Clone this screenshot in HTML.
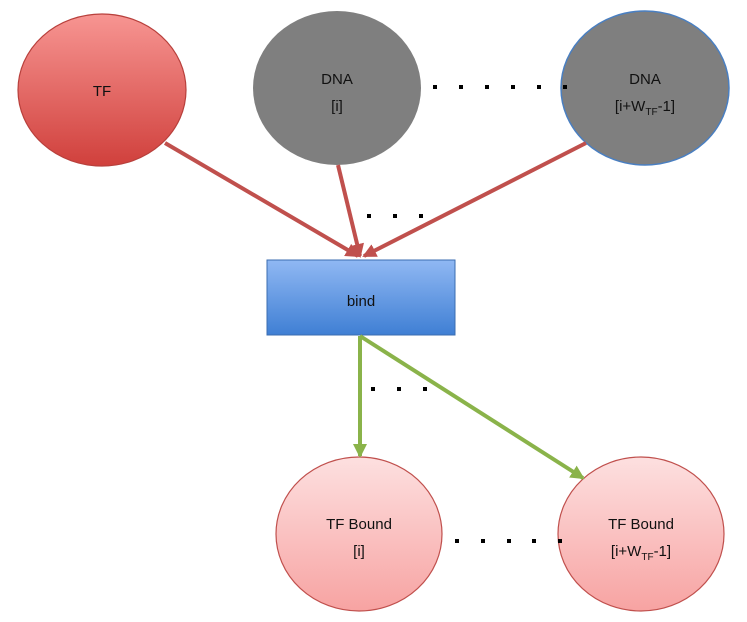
<!DOCTYPE html>
<html><head><style>body{margin:0;background:#fff}svg{display:block}text{font-family:"Liberation Sans",sans-serif;font-size:15px;fill:#111;text-anchor:middle}</style></head><body>
<svg width="747" height="622" viewBox="0 0 747 622">
<defs>
<linearGradient id="r" x1="0" y1="0" x2="0" y2="1"><stop offset="0" stop-color="#f79592"/><stop offset="1" stop-color="#d0403c"/></linearGradient>
<linearGradient id="p" x1="0" y1="0" x2="0" y2="1"><stop offset="0" stop-color="#fde0e0"/><stop offset="1" stop-color="#f7a3a2"/></linearGradient>
<linearGradient id="b" x1="0" y1="0" x2="0" y2="1"><stop offset="0" stop-color="#90b8f3"/><stop offset="1" stop-color="#3f7fd4"/></linearGradient>
<marker id="ar" markerWidth="14" markerHeight="14" refX="12" refY="7" orient="auto" markerUnits="userSpaceOnUse" viewBox="0 0 14 14"><path d="M0,0L14,7L0,14z" fill="#c0504d"/></marker>
<marker id="ag" markerWidth="14" markerHeight="14" refX="12" refY="7" orient="auto" markerUnits="userSpaceOnUse" viewBox="0 0 14 14"><path d="M0,0L14,7L0,14z" fill="#8ab34a"/></marker>
</defs>
<ellipse cx="102" cy="90" rx="84" ry="76" fill="url(#r)" stroke="#b8403c" stroke-width="1.2"/>
<ellipse cx="337" cy="88" rx="84" ry="77" fill="#7f7f7f"/>
<ellipse cx="645" cy="88" rx="84" ry="77" fill="#7f7f7f" stroke="#4a7fc1" stroke-width="1.5"/>
<text x="102" y="96">TF</text>
<text x="337" y="84">DNA</text><text x="337" y="111">[i]</text>
<text x="645" y="84">DNA</text><text x="645" y="111">[i+W<tspan font-size="10" dy="4">TF</tspan><tspan dy="-4">-1]</tspan></text>
<g stroke="#c0504d" stroke-width="4" fill="none">
<line x1="165" y1="143" x2="358" y2="256" marker-end="url(#ar)"/>
<line x1="338" y1="165" x2="360" y2="256" marker-end="url(#ar)"/>
<line x1="586" y1="143" x2="364" y2="256" marker-end="url(#ar)"/>
</g>
<rect x="267" y="260" width="188" height="75" fill="url(#b)" stroke="#3b6db0" stroke-width="1"/>
<text x="361" y="306">bind</text>
<ellipse cx="359" cy="534" rx="83" ry="77" fill="url(#p)" stroke="#c0504d" stroke-width="1.2"/>
<ellipse cx="641" cy="534" rx="83" ry="77" fill="url(#p)" stroke="#c0504d" stroke-width="1.2"/>
<text x="359" y="529">TF Bound</text><text x="359" y="556">[i]</text>
<text x="641" y="529">TF Bound</text><text x="641" y="556">[i+W<tspan font-size="10" dy="4">TF</tspan><tspan dy="-4">-1]</tspan></text>
<g stroke="#8ab34a" stroke-width="4" fill="none">
<line x1="360" y1="336" x2="360" y2="456" marker-end="url(#ag)"/>
<line x1="360" y1="336" x2="583" y2="478" marker-end="url(#ag)"/>
</g>
<g fill="#000"><rect x="433" y="85" width="4" height="4"/><rect x="459" y="85" width="4" height="4"/><rect x="485" y="85" width="4" height="4"/><rect x="511" y="85" width="4" height="4"/><rect x="537" y="85" width="4" height="4"/><rect x="563" y="85" width="4" height="4"/>
<rect x="367" y="214" width="4" height="4"/><rect x="393" y="214" width="4" height="4"/><rect x="419" y="214" width="4" height="4"/>
<rect x="371" y="387" width="4" height="4"/><rect x="397" y="387" width="4" height="4"/><rect x="423" y="387" width="4" height="4"/>
<rect x="455" y="539" width="4" height="4"/><rect x="481" y="539" width="4" height="4"/><rect x="507" y="539" width="4" height="4"/><rect x="532" y="539" width="4" height="4"/><rect x="558" y="539" width="4" height="4"/></g>
</svg></body></html>
